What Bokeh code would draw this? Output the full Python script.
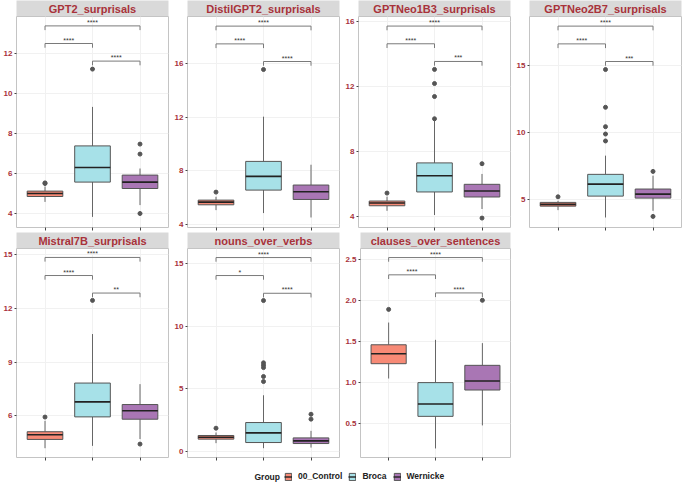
from bokeh.plotting import figure
from bokeh.models import Range1d, FixedTicker, Label, Legend, LegendItem
from bokeh.layouts import column, row
from bokeh.embed import file_html
from bokeh.resources import INLINE
from bokeh.core.properties import value

# ---------------- data ----------------
panel_names = ["GPT2_surprisals", "DistilGPT2_surprisals", "GPTNeo1B3_surprisals",
               "GPTNeo2B7_surprisals", "Mistral7B_surprisals", "nouns_over_verbs",
               "clauses_over_sentences"]
groups = ["00_Control", "Broca", "Wernicke"]
group_x = [1, 2, 3]

whisker_low = [[4.58, 3.83, 4.42], [5.05, 4.83, 4.50], [4.33, 4.07, 4.44],
               [4.20, 3.65, 4.15], [4.19, 4.32, 4.70], [0.69, 0.29, 0.34],
               [1.05, 0.20, 0.48]]
q1 = [[4.85, 5.57, 5.25], [5.45, 6.55, 5.85], [4.64, 5.49, 5.18],
      [4.50, 5.25, 5.10], [4.68, 5.94, 5.81], [1.01, 0.74, 0.66],
      [1.23, 0.59, 0.91]]
median = [[5.00, 6.30, 5.57], [5.65, 7.58, 6.43], [4.81, 6.49, 5.55],
          [4.63, 6.15, 5.40], [4.94, 6.78, 6.28], [1.16, 1.51, 0.87],
          [1.35, 0.74, 1.02]]
q3 = [[5.12, 7.38, 5.92], [5.80, 8.70, 6.93], [4.93, 7.28, 5.96],
      [4.78, 6.88, 5.78], [5.11, 7.83, 6.63], [1.30, 2.33, 1.11],
      [1.46, 1.00, 1.21]]
whisker_high = [[5.35, 9.33, 6.25], [6.05, 12.05, 8.45], [5.20, 9.90, 6.60],
                [4.90, 8.28, 6.78], [5.72, 10.57, 7.77], [1.54, 4.50, 1.67],
                [1.73, 1.52, 1.48]]
outliers = [
    [[5.53, 5.50], [11.22], [7.47, 6.97, 4.00]],
    [[6.40], [15.58], []],
    [[5.42], [10.00, 11.37, 12.17, 13.04], [7.23, 3.88]],
    [[5.20], [9.38, 9.90, 10.45, 11.90, 14.73], [7.10, 3.73]],
    [[5.93], [12.45], [4.42]],
    [[1.88], [5.59, 5.99, 6.70, 6.89, 7.08, 12.03], [2.60, 2.99]],
    [[1.89], [], [2.00]],
]
pair_left = [1, 1, 2]
pair_right = [3, 2, 3]
bracket_y = [[13.38, 12.50, 11.62], [18.83, 17.50, 16.18], [15.71, 14.62, 13.53],
             [17.98, 16.65, 15.33], [14.85, 13.84, 12.86], [15.45, 14.02, 12.61],
             [2.52, 2.31, 2.09]]
bracket_labels = [["****", "****", "****"], ["****", "****", "****"],
                  ["****", "****", "***"], ["****", "****", "***"],
                  ["****", "****", "**"], ["****", "*", "****"],
                  ["****", "****", "****"]]
y_limits = [(3.3, 13.85), (3.75, 19.55), (3.3, 16.3), (2.9, 18.7),
            (3.67, 15.35), (-0.45, 16.17), (0.09, 2.63)]
y_ticks = [[4, 6, 8, 10, 12], [4, 8, 12, 16], [4, 8, 12, 16], [5, 10, 15],
           [6, 9, 12, 15], [0, 5, 10, 15], [0.5, 1.0, 1.5, 2.0, 2.5]]
y_tick_labels = [["4", "6", "8", "10", "12"], ["4", "8", "12", "16"],
                 ["4", "8", "12", "16"], ["5", "10", "15"], ["6", "9", "12", "15"],
                 ["0", "5", "10", "15"], ["0.5", "1.0", "1.5", "2.0", "2.5"]]

# ---------------- style ----------------
FILL = ["#F78A76", "#A7E1E8", "#A976B4"]
OUTLINE = "#555555"
RED = "#A8323A"
FONT = "Liberation Sans"
W = 171
LB, RB = 13, 3
BOX_W = 0.75
MAIN_H = [216, 216, 216, 216, 214, 214, 214]


def make_strip(name):
    s = figure(width=W, height=16, x_range=Range1d(0, 1), y_range=Range1d(0, 1),
               toolbar_location=None, output_backend="svg",
               min_border_left=LB, min_border_right=RB, min_border_top=0,
               min_border_bottom=0, x_axis_location=None, y_axis_location=None,
               background_fill_color="#D9D9D9", outline_line_color=None,
               border_fill_color="white")
    s.xgrid.visible = False
    s.ygrid.visible = False
    s.add_layout(Label(x=0.5, y=0.5, text=name, text_align="center",
                       text_baseline="middle", text_font_size="11px",
                       text_font_style="bold", text_color=RED, text_font=FONT))
    return s


def make_panel(i):
    lo, hi = y_limits[i]
    p = figure(width=W, height=MAIN_H[i], x_range=Range1d(0.4, 3.6),
               y_range=Range1d(lo, hi),
               toolbar_location=None, output_backend="svg",
               min_border_left=LB, min_border_right=RB, min_border_top=0,
               min_border_bottom=5, outline_line_color="#C4C4C4",
               background_fill_color="white", border_fill_color="white")
    p.xgrid.ticker = FixedTicker(ticks=group_x)
    p.ygrid.ticker = FixedTicker(ticks=y_ticks[i])
    p.grid.grid_line_color = "#F1F1F1"

    # whiskers
    p.segment(x0=group_x, y0=whisker_low[i], x1=group_x, y1=q1[i],
              line_color="#666666", line_width=1)
    p.segment(x0=group_x, y0=q3[i], x1=group_x, y1=whisker_high[i],
              line_color="#666666", line_width=1)
    # boxes
    p.vbar(x=group_x, width=BOX_W, bottom=q1[i], top=q3[i], fill_color=FILL,
           line_color=OUTLINE, line_width=1)
    # medians
    p.segment(x0=[g - BOX_W / 2 for g in group_x], y0=median[i],
              x1=[g + BOX_W / 2 for g in group_x], y1=median[i],
              line_color="#222222", line_width=1.6)
    # outliers
    ox, oy = [], []
    for g, vals in zip(group_x, outliers[i]):
        ox += [g] * len(vals)
        oy += vals
    p.scatter(x=ox, y=oy, size=4, fill_color="#555555", line_color="#555555")

    # significance brackets
    d = 0.02 * (hi - lo)
    xs, ys, mids = [], [], []
    for a, b, yb in zip(pair_left, pair_right, bracket_y[i]):
        xs.append([a, a, b, b])
        ys.append([yb - d, yb, yb, yb - d])
        mids.append((a + b) / 2)
    p.multi_line(xs=xs, ys=ys, line_color="#7A7A7A", line_width=1)
    p.text(x=mids, y=bracket_y[i], text=bracket_labels[i], text_align="center",
           text_baseline="bottom", text_font_size="7px", text_color="#333333",
           text_font=value(FONT), y_offset=0)

    # axes
    ya = p.yaxis[0]
    ya.ticker = FixedTicker(ticks=y_ticks[i])
    ya.major_label_overrides = {t: l for t, l in zip(y_ticks[i], y_tick_labels[i])}
    ya.major_label_text_color = RED
    ya.major_label_text_font_size = "8px"
    ya.major_label_text_font_style = "bold"
    ya.major_label_text_font = FONT
    ya.axis_line_color = None
    ya.major_tick_line_color = "#444444"
    ya.major_tick_in = 0
    ya.major_tick_out = 2
    ya.minor_tick_line_color = None
    ya.major_label_standoff = 2

    xa = p.xaxis[0]
    xa.ticker = FixedTicker(ticks=group_x)
    xa.major_label_overrides = {g: "" for g in group_x}
    xa.major_label_text_font_size = "8px"
    xa.major_label_standoff = 0
    xa.axis_line_color = None
    xa.major_tick_line_color = "#444444"
    xa.major_tick_in = 0
    xa.major_tick_out = 3
    xa.minor_tick_line_color = None
    return p


cells = [column(make_strip(panel_names[i]), make_panel(i)) for i in range(len(panel_names))]
row1 = row(*cells[:4])
row2 = row(*cells[4:])

# ---------------- legend ----------------
lg = figure(width=4 * W, height=21, x_range=Range1d(0, 1), y_range=Range1d(0, 1),
            toolbar_location=None, output_backend="svg", x_axis_location=None,
            y_axis_location=None, outline_line_color=None, min_border=0,
            border_fill_color="white", background_fill_color="white")
lg.xgrid.visible = False
lg.ygrid.visible = False
items = []
for g, c in zip(groups, FILL):
    # off-screen placeholders: only their legend keys are shown
    r1 = lg.vbar(x=[-5], top=[0], bottom=[-1], width=0.1, fill_color=c,
                 line_color=OUTLINE)
    r2 = lg.segment(x0=[-5], y0=[0], x1=[-4], y1=[0], line_color="#222222",
                    line_width=1.4)
    items.append(LegendItem(label=g, renderers=[r1, r2]))
leg = Legend(items=items, orientation="horizontal", location=(284, 2),
             glyph_width=8, glyph_height=9, label_height=9, label_width=10,
             label_text_font_size="8.5px", label_text_font_style="bold",
             label_text_font=FONT, label_text_color="#222222",
             label_text_baseline="middle",
             padding=0, margin=0, spacing=6, label_standoff=6,
             border_line_color=None, background_fill_alpha=0)
lg.add_layout(leg)
lg.add_layout(Label(x=254, y=6.5, x_units="screen", y_units="screen", text="Group",
                    text_baseline="middle",
                    text_font_size="8.5px", text_font_style="bold", text_font=FONT,
                    text_color="#222222"))

layout = column(row1, row2, lg)
open("out.html", "w").write(file_html(layout, INLINE))
